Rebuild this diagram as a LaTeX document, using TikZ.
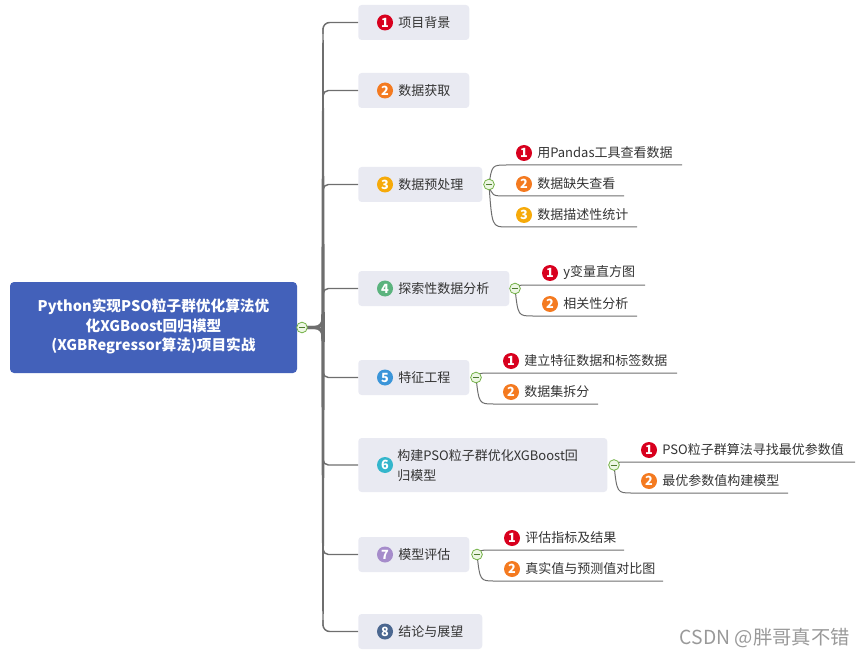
\documentclass[tikz,border=0pt]{standalone}
\usepackage{fontspec}
\setmainfont{Noto Sans CJK SC}
\definecolor{rootblue}{HTML}{4361BA}
\definecolor{boxgray}{HTML}{E9EAF2}
\definecolor{linegray}{HTML}{6E6E6E}
\definecolor{txt}{HTML}{333333}
\definecolor{cgreen}{HTML}{71B044}
\definecolor{cfill}{HTML}{EDF7E4}
\definecolor{c1}{HTML}{D8001E}
\definecolor{c2}{HTML}{F47A20}
\definecolor{c3}{HTML}{F6AA0A}
\definecolor{c4}{HTML}{5BB37E}
\definecolor{c5}{HTML}{3B95D9}
\definecolor{c6}{HTML}{34B6CC}
\definecolor{c7}{HTML}{A68CCB}
\definecolor{c8}{HTML}{4B6790}
\begin{document}
\begin{tikzpicture}[x=0.75pt,y=-0.75pt,
  mainbox/.style={fill=boxgray, rounded corners=2.5pt, inner sep=0pt, anchor=west, minimum height=26.25pt},
  badge/.style={circle, fill=#1, minimum size=12pt, inner sep=0pt, text=white, font=\bfseries\fontsize{9.5}{10}\selectfont},
  itemtext/.style={anchor=west, text=txt, font=\fontsize{9.75}{12}\selectfont, inner sep=0pt},
  toggle/.style={circle, draw=cgreen, fill=cfill, line width=0.6pt, minimum size=8pt, inner sep=0pt,
    path picture={\draw[cgreen!70!black, line width=0.6pt] ([xshift=-2.3pt]path picture bounding box.center) -- ([xshift=2.3pt]path picture bounding box.center);}},
  branch/.style={draw=linegray, line width=1.1pt},
  subline/.style={draw=linegray, line width=0.75pt}]
\useasboundingbox (0,0) rectangle (863,659);

% root
\node[fill=rootblue, rounded corners=3pt, minimum width=215.25pt, minimum height=68.25pt, inner sep=0pt] (root) at (153.5,327.5) {};
\node[align=center, text=white, font=\bfseries\fontsize{11}{14.6}\selectfont] (roottext) at (153.5,326.5) {Python实现PSO粒子群优化算法优\\化XGBoost回归模型\\(XGBRegressor算法)项目实战};
\coordinate (rt) at (302,327.5);

% main boxes
\node[mainbox, minimum width=83.25pt] (b1) at (358,22.5) {};
\node[mainbox, minimum width=83.25pt] (b2) at (358,90.5) {};
\node[mainbox, minimum width=93pt] (b3) at (358,184.5) {};
\node[mainbox, minimum width=113.25pt] (b4) at (358,288.5) {};
\node[mainbox, minimum width=83.25pt] (b5) at (358,377.5) {};
\node[mainbox, minimum width=186.75pt, minimum height=40.5pt] (b6) at (358,465) {};
\node[mainbox, minimum width=83.25pt] (b7) at (358,554.5) {};
\node[mainbox, minimum width=93pt] (b8) at (358,631.5) {};

% trunk
\fill[linegray] (322.3,28) -- (323.7,28) -- (324.8,327) -- (323.7,626) -- (322.3,626) -- (321.2,327) -- cycle;
\draw[branch, rounded corners=5] (b1.west) -- (323,22.5) -- (323,34);
\draw[branch, rounded corners=5] (b8.west) -- (323,631.5) -- (323,620);
\foreach \b/\y in {b2/90.5, b3/184.5, b4/288.5}
  \draw[branch, rounded corners=4] (323,\y+9) -- (323,\y) -- (\b.west);
\foreach \b/\y in {b5/377.5, b6/465, b7/554.5}
  \draw[branch, rounded corners=4] (323,\y-9) -- (323,\y) -- (\b.west);
\draw[draw=linegray, line width=2.6pt, rounded corners=6] (rt) -- (323,327.5) -- (323,314);
\draw[draw=linegray, line width=2.6pt, rounded corners=6] (rt) -- (323,327.5) -- (323,341);

% main badges and texts
\foreach \k/\y/\t in {1/22.5/项目背景, 2/90.5/数据获取, 3/184.5/数据预处理, 4/288.5/探索性数据分析, 5/377.5/特征工程, 7/554.5/模型评估, 8/631.5/结论与展望} {
  \node[badge=c\k] (m\k) at (385,\y) {\k};
  \node[itemtext] (mt\k) at (398,\y) {\t};
}
\node[badge=c6] (m6) at (385,465) {6};
\node[itemtext, align=left, font=\fontsize{9.75}{15}\selectfont] (mt6) at (397,465.5) {构建PSO粒子群优化XGBoost回\\归模型};

% toggle centers
\coordinate (t3) at (489,184.5);
\coordinate (t4) at (515,288.5);
\coordinate (t5) at (476,377.5);
\coordinate (t6) at (614,465);
\coordinate (t7) at (477,554.5);

% sub items
\foreach \n/\p/\cx/\uy/\ex/\num/\t in {
  sa/t3/489/165/682/1/用Pandas工具查看数据,
  sb/t3/489/196/624/2/数据缺失查看,
  sc/t3/489/227/637/3/数据描述性统计,
  sd/t4/515/285/645/1/y变量直方图,
  se/t4/515/316/637/2/相关性分析,
  sf/t5/476/373/677/1/建立特征数据和标签数据,
  sg/t5/476/404/598/2/数据集拆分,
  sh/t6/614/462/855/1/PSO粒子群算法寻找最优参数值,
  si/t6/614/493/788/2/最优参数值构建模型,
  sj/t7/477/550/624/1/评估指标及结果,
  sk/t7/477/581/663/2/真实值与预测值对比图} {
  \coordinate (\n s) at (\cx+18,\uy);
  \coordinate (\n e) at (\ex,\uy);
  \draw[subline] (\p) .. controls (\cx+3,\uy) .. (\n s) -- (\n e);
  \node[badge=c\num] (\n b) at (\cx+35,\uy-12) {\num};
  \node[itemtext] (\n t) at (\cx+48,\uy-12) {\t};
}

% toggles
\node[toggle] (trt) at (rt) {};
\node[toggle] (tg3) at (t3) {};
\node[toggle] (tg4) at (t4) {};
\node[toggle] (tg5) at (t5) {};
\node[toggle] (tg6) at (t6) {};
\node[toggle] (tg7) at (t7) {};

% watermark
\node[anchor=east, text=black!40, font=\fontsize{14.5}{16}\selectfont, inner sep=0pt] (wm) at (850,638) {CSDN @胖哥真不错};
\end{tikzpicture}
\end{document}
